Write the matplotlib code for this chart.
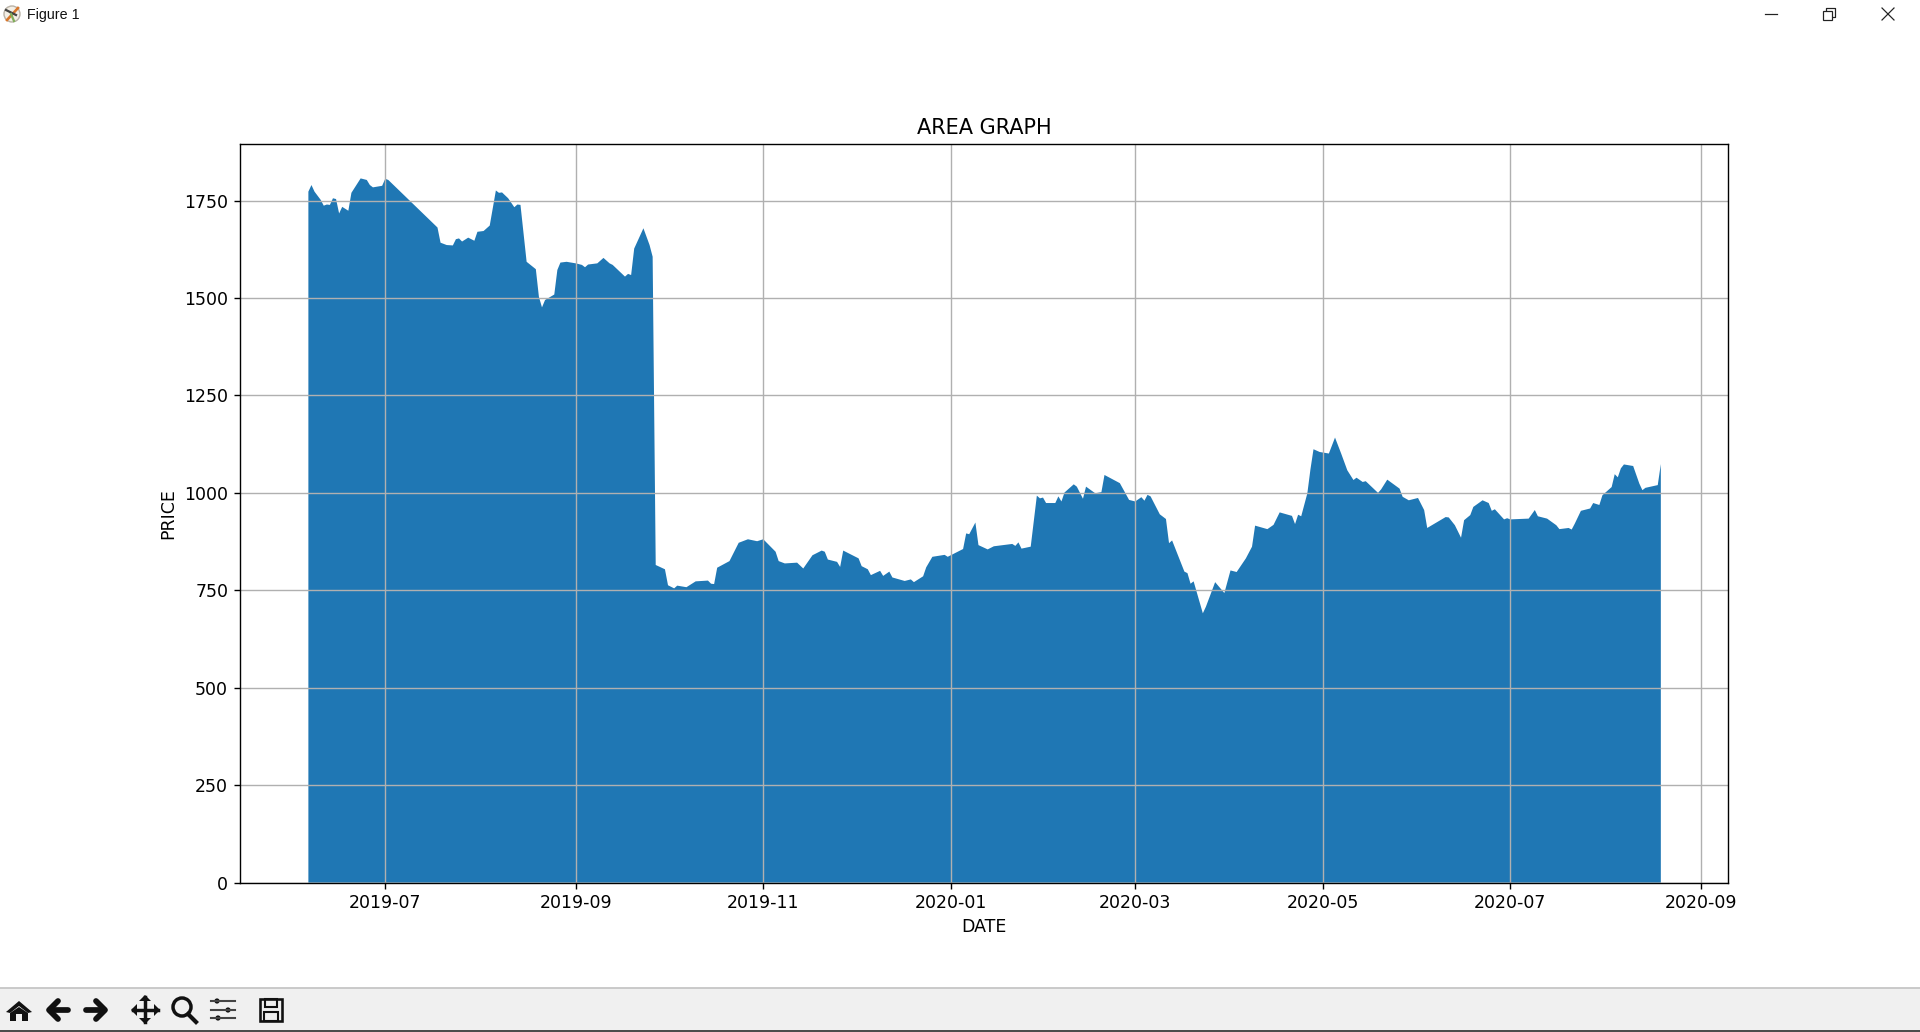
import matplotlib
matplotlib.use('Agg')
import matplotlib.dates as mdates
import matplotlib.pyplot as plt
import numpy as np
import pandas as pd
from matplotlib.patches import Circle, Polygon, Rectangle

dates = [
    '2019-06-06', '2019-06-07', '2019-06-08', '2019-06-10', '2019-06-11', '2019-06-12', '2019-06-13', '2019-06-14',
    '2019-06-15', '2019-06-16', '2019-06-17', '2019-06-19', '2019-06-20', '2019-06-23', '2019-06-25', '2019-06-26',
    '2019-06-27', '2019-06-30', '2019-07-01', '2019-07-02', '2019-07-18', '2019-07-19', '2019-07-21', '2019-07-23',
    '2019-07-24', '2019-07-25', '2019-07-26', '2019-07-28', '2019-07-30', '2019-07-31', '2019-08-02', '2019-08-04',
    '2019-08-06', '2019-08-07', '2019-08-08', '2019-08-10', '2019-08-12', '2019-08-13', '2019-08-14', '2019-08-16',
    '2019-08-19', '2019-08-20', '2019-08-21', '2019-08-22', '2019-08-25', '2019-08-26', '2019-08-27', '2019-08-29',
    '2019-09-01', '2019-09-03', '2019-09-04', '2019-09-05', '2019-09-08', '2019-09-10', '2019-09-12', '2019-09-13',
    '2019-09-17', '2019-09-18', '2019-09-19', '2019-09-20', '2019-09-23', '2019-09-25', '2019-09-26', '2019-09-27',
    '2019-09-30', '2019-10-01', '2019-10-03', '2019-10-04', '2019-10-07', '2019-10-10', '2019-10-14', '2019-10-15',
    '2019-10-16', '2019-10-17', '2019-10-21', '2019-10-24', '2019-10-27', '2019-10-30', '2019-11-01', '2019-11-05',
    '2019-11-06', '2019-11-08', '2019-11-12', '2019-11-14', '2019-11-17', '2019-11-20', '2019-11-21', '2019-11-22',
    '2019-11-25', '2019-11-26', '2019-11-27', '2019-12-02', '2019-12-03', '2019-12-05', '2019-12-06', '2019-12-09',
    '2019-12-10', '2019-12-12', '2019-12-13', '2019-12-17', '2019-12-19', '2019-12-20', '2019-12-23', '2019-12-24',
    '2019-12-26', '2019-12-30', '2019-12-31', '2020-01-01', '2020-01-05', '2020-01-06', '2020-01-07', '2020-01-09',
    '2020-01-10', '2020-01-13', '2020-01-14', '2020-01-15', '2020-01-21', '2020-01-22', '2020-01-23', '2020-01-24',
    '2020-01-27', '2020-01-29', '2020-01-30', '2020-01-31', '2020-02-01', '2020-02-04', '2020-02-05', '2020-02-06',
    '2020-02-07', '2020-02-10', '2020-02-11', '2020-02-13', '2020-02-14', '2020-02-17', '2020-02-19', '2020-02-20',
    '2020-02-25', '2020-02-28', '2020-03-01', '2020-03-03', '2020-03-04', '2020-03-05', '2020-03-06', '2020-03-09',
    '2020-03-11', '2020-03-12', '2020-03-13', '2020-03-17', '2020-03-18', '2020-03-19', '2020-03-20', '2020-03-23',
    '2020-03-24', '2020-03-27', '2020-03-30', '2020-04-01', '2020-04-03', '2020-04-06', '2020-04-08', '2020-04-09',
    '2020-04-13', '2020-04-15', '2020-04-17', '2020-04-21', '2020-04-22', '2020-04-23', '2020-04-24', '2020-04-26',
    '2020-04-27', '2020-04-28', '2020-04-30', '2020-05-03', '2020-05-05', '2020-05-07', '2020-05-09', '2020-05-11',
    '2020-05-12', '2020-05-14', '2020-05-15', '2020-05-19', '2020-05-20', '2020-05-22', '2020-05-26', '2020-05-27',
    '2020-05-29', '2020-06-01', '2020-06-03', '2020-06-04', '2020-06-10', '2020-06-11', '2020-06-13', '2020-06-15',
    '2020-06-16', '2020-06-18', '2020-06-19', '2020-06-22', '2020-06-24', '2020-06-25', '2020-06-26', '2020-06-29',
    '2020-06-30', '2020-07-01', '2020-07-07', '2020-07-09', '2020-07-10', '2020-07-13', '2020-07-16', '2020-07-17',
    '2020-07-20', '2020-07-21', '2020-07-22', '2020-07-24', '2020-07-27', '2020-07-28', '2020-07-30', '2020-07-31',
    '2020-08-03', '2020-08-04', '2020-08-05', '2020-08-06', '2020-08-07', '2020-08-10', '2020-08-12', '2020-08-13',
    '2020-08-14', '2020-08-18', '2020-08-19',
]

prices = [
    1773, 1790, 1773, 1752, 1737, 1740, 1739, 1756,
    1754, 1717, 1734, 1724, 1770, 1807, 1803, 1790,
    1784, 1788, 1806, 1803, 1681, 1642, 1636, 1635,
    1651, 1653, 1645, 1655, 1647, 1670, 1672, 1686,
    1776, 1770, 1771, 1756, 1733, 1740, 1739, 1593,
    1574, 1503, 1476, 1495, 1509, 1572, 1591, 1593,
    1589, 1585, 1579, 1586, 1589, 1603, 1589, 1585,
    1555, 1562, 1559, 1627, 1679, 1636, 1606, 815,
    804, 763, 755, 762, 758, 773, 775, 767,
    766, 808, 825, 872, 881, 876, 881, 849,
    825, 819, 821, 806, 840, 852, 849, 829,
    823, 810, 852, 832, 812, 804, 789, 800,
    787, 798, 783, 774, 778, 771, 786, 809,
    836, 841, 836, 840, 856, 896, 894, 924,
    866, 855, 859, 863, 869, 864, 873, 857,
    862, 993, 986, 988, 974, 974, 991, 978,
    1001, 1022, 1016, 985, 1016, 999, 1002, 1046,
    1025, 982, 978, 989, 980, 995, 991, 945,
    933, 871, 878, 798, 794, 767, 773, 691,
    708, 771, 743, 801, 797, 832, 862, 916,
    907, 918, 950, 941, 920, 944, 940, 999,
    1060, 1112, 1105, 1101, 1142, 1101, 1058, 1033,
    1039, 1028, 1030, 1000, 1009, 1034, 1011, 990,
    981, 987, 956, 910, 938, 937, 917, 885,
    930, 943, 964, 981, 974, 954, 958, 932,
    935, 932, 934, 956, 940, 934, 917, 907,
    910, 906, 921, 954, 960, 974, 969, 994,
    1015, 1048, 1040, 1063, 1073, 1069, 1024, 1007,
    1013, 1020, 1074,
]

W, H = 1920, 1032
DPI = 125


def draw_window(fig):
    # title bar and toolbar of the plot window, in screen pixels
    win = fig.add_axes([0, 0, 1, 1], zorder=5)
    win.set_xlim(0, W)
    win.set_ylim(H, 0)
    win.axis('off')
    win.patch.set_alpha(0)

    win.add_patch(Circle((12, 14), 8, fc='#f4efe6', ec='#b9b2a6', lw=0.8))
    win.plot([7, 18], [20, 8], color='#d8772c', lw=1.5)
    win.plot([6, 16], [10, 15], color='#444444', lw=1.3)
    win.plot([11, 14], [14, 21], color='#7fae5a', lw=1.3)
    win.text(27, 14.5, 'Figure 1', fontsize=8.2, family='Liberation Sans', va='center', color='#111111')

    win.plot([1765, 1777], [13.5, 13.5], color='#222222', lw=0.7)
    win.add_patch(Rectangle((1823, 11), 9, 9, fc='white', ec='#222222', lw=0.7, zorder=3))
    win.plot([1826, 1826, 1835, 1835, 1832], [11, 8, 8, 17, 17], color='#222222', lw=0.7)
    win.plot([1882, 1894], [8, 20], color='#222222', lw=0.7)
    win.plot([1882, 1894], [20, 8], color='#222222', lw=0.7)

    win.add_patch(Rectangle((0, 988), W, 44, fc='#f0f0f0', ec='none'))
    win.plot([0, W], [988, 988], color='#c4c4c4', lw=1)
    win.plot([0, W], [1031, 1031], color='#333333', lw=1)

    k = '#111111'
    # home
    win.add_patch(Polygon([(6, 1012), (19, 1001), (32, 1012), (28, 1013), (19, 1006), (10, 1013)], fc=k))
    win.add_patch(Polygon([(10, 1013), (19, 1007), (28, 1013), (28, 1021), (22, 1021), (22, 1014), (16, 1014), (16, 1021), (10, 1021)], fc=k))
    # back and forward
    win.plot([68, 50], [1010, 1010], color=k, lw=3.3, solid_capstyle='round')
    win.plot([58, 49, 58], [1001, 1010, 1019], color=k, lw=3.3, solid_capstyle='round')
    win.plot([86, 104], [1010, 1010], color=k, lw=3.3, solid_capstyle='round')
    win.plot([96, 105, 96], [1001, 1010, 1019], color=k, lw=3.3, solid_capstyle='round')
    # move
    win.plot([133, 158], [1010, 1010], color=k, lw=2)
    win.plot([145, 145], [997, 1022], color=k, lw=2)
    win.add_patch(Polygon([(131, 1010), (137, 1004), (137, 1016)], fc=k))
    win.add_patch(Polygon([(160, 1010), (154, 1004), (154, 1016)], fc=k))
    win.add_patch(Polygon([(145, 995), (139, 1001), (151, 1001)], fc=k))
    win.add_patch(Polygon([(145, 1024), (139, 1018), (151, 1018)], fc=k))
    # zoom
    win.add_patch(Circle((182, 1007), 9, fc='none', ec=k, lw=2))
    win.plot([188, 196], [1014, 1022], color=k, lw=2.4)
    # configure
    for y, xm in zip([1001, 1010, 1018], [217, 228, 218]):
        win.plot([211, 235], [y, y], color='#444444', lw=1.2)
        win.add_patch(Circle((xm, y), 2.6, fc=k))
    # save
    win.add_patch(Rectangle((260, 999), 22, 22, fc='none', ec=k, lw=1.5))
    win.add_patch(Rectangle((265, 999), 12, 8, fc='none', ec=k, lw=1.2))
    win.add_patch(Rectangle((264, 1012), 14, 9, fc='none', ec=k, lw=1.2))


def main():
    fig = plt.figure(figsize=(W / DPI, H / DPI), dpi=DPI)
    ax = fig.add_axes([240.3 / W, 1 - 882.6 / H, (1728.3 - 240.3) / W, (882.6 - 144.3) / H])

    x = pd.to_datetime(dates)
    y = np.array(prices)
    ax.fill_between(x, y)

    jul1 = mdates.date2num(pd.Timestamp('2019-07-01'))
    ax.set_xlim(jul1 - 47.15, jul1 + 436.95)
    ax.set_ylim(0, 1894.5)

    ax.set_title('AREA GRAPH')
    ax.set_xlabel('DATE', labelpad=3.5)
    ax.set_ylabel('PRICE')
    ax.tick_params(axis='x', pad=3)
    ax.grid(True)

    draw_window(fig)
    fig.savefig('out.png', dpi=DPI)


if __name__ == "__main__":
    main()
